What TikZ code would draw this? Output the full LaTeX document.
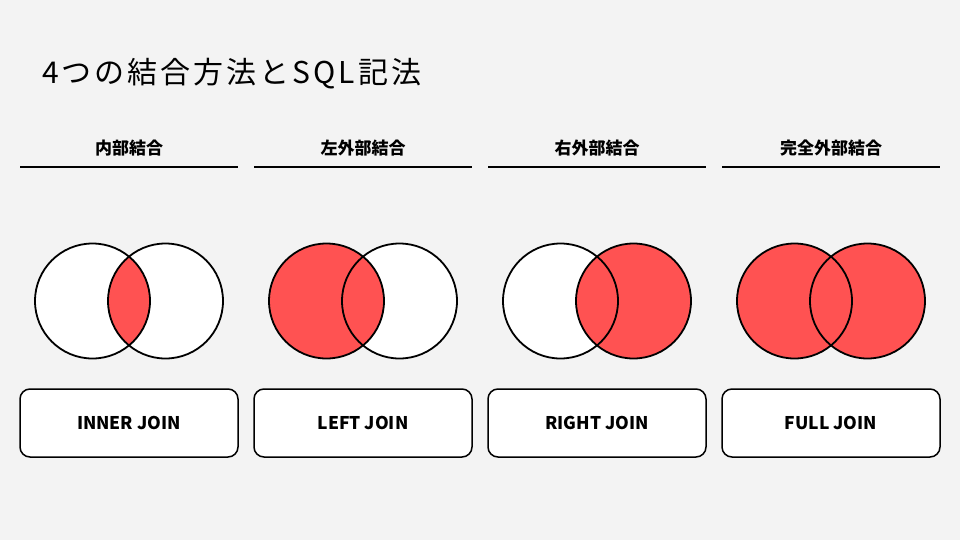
\documentclass[tikz,border=0pt]{standalone}
\usepackage{fontspec}
\setmainfont{Noto Sans CJK JP}
\newfontfamily\titlefont[LetterSpace=10]{Noto Sans CJK JP}
\usetikzlibrary{positioning}

\definecolor{bgcol}{HTML}{F3F3F3}
\definecolor{joinred}{HTML}{FF5252}

\begin{document}
\begin{tikzpicture}[x=1pt, y=-1pt,
  headtext/.style = {font=\fontsize{17}{20}\selectfont\bfseries},
  joinbox/.style = {draw, line width=1.5pt, rounded corners=10pt, fill=white,
    minimum width=218pt, minimum height=68pt,
    font=\fontsize{17.5}{20}\selectfont\bfseries},
  venn/.style = {draw, line width=1.8pt}]

\def\rad{57.5}
\def\gap{36.5}

 \fill[bgcol] (0,0) rectangle (960,540);
 \useasboundingbox (0,0) rectangle (960,540);

 \node[anchor=west, inner sep=0pt, font=\fontsize{30}{34}\selectfont\titlefont] (title) at (42,74) {4つの結合方法とSQL記法};

	\foreach \head/\jn/\lfill/\rfill [count=\i from 0] in {内部結合/INNER JOIN/white/white, 左外部結合/LEFT JOIN/joinred/white, 右外部結合/RIGHT JOIN/white/joinred, 完全外部結合/FULL JOIN/joinred/joinred} {
	\pgfmathsetmacro{\cx}{129 + 234*\i}
	\node[headtext] (head\i) at (\cx,148) {\head};
	\coordinate (rulel\i) at ({\cx - 109},167);
	\coordinate (ruler\i) at ({\cx + 109},167);
	\draw[line width=1.8pt] (rulel\i) -- (ruler\i);
	% the two sets
	\coordinate (setA\i) at ({\cx - \gap},301);
	\coordinate (setB\i) at ({\cx + \gap},301);
	\fill[\lfill] (setA\i) circle (\rad);
	\fill[\rfill] (setB\i) circle (\rad);
	\begin{scope}
	  \clip (setA\i) circle (\rad);
	  \fill[joinred] (setB\i) circle (\rad);
	\end{scope}
	\draw[venn] (setA\i) circle (\rad);
	\draw[venn] (setB\i) circle (\rad);
	\node[joinbox] (join\i) at (\cx,423) {\jn};
}
\end{tikzpicture}
\end{document}
